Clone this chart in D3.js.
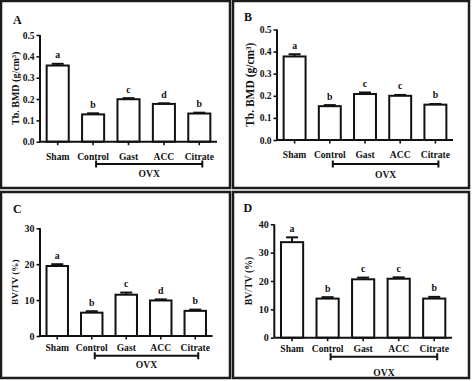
<!DOCTYPE html>
<html>
<head>
<meta charset="utf-8">
<script src="https://cdn.jsdelivr.net/npm/d3@7"></script>
<style>
  html, body { margin: 0; padding: 0; background: #fff; }
  svg { display: block; }
  text { font-family: "Liberation Serif", "Times New Roman", "DejaVu Serif", serif; font-weight: bold; fill: #111; }
</style>
</head>
<body>
<svg id="chart" width="474" height="381"></svg>
<script>
// ---- data ----
const groups = ["Sham", "Control", "Gast", "ACC", "Citrate"];

const bmdA = [0.357, 0.128, 0.199, 0.177, 0.132];
const errA = [0.008, 0.005, 0.005, 0.003, 0.004];
const lettersA = ["a", "b", "c", "d", "b"];

const bmdB = [0.378, 0.153, 0.208, 0.200, 0.160];
const errB = [0.010, 0.005, 0.007, 0.004, 0.003];
const lettersB = ["a", "b", "c", "c", "b"];

const bvC = [19.5, 6.5, 11.5, 9.9, 7.0];
const errC = [0.5, 0.4, 0.6, 0.3, 0.35];
const lettersC = ["a", "b", "c", "d", "b"];

const bvD = [33.7, 13.8, 20.6, 20.8, 13.8];
const errD = [1.7, 0.5, 0.6, 0.5, 0.6];
const lettersD = ["a", "b", "c", "c", "b"];

const ticksBMD = [0, 0.1, 0.2, 0.3, 0.4, 0.5];
const ticksC = [0, 10, 20, 30];
const ticksD = [0, 10, 20, 30, 40];

const titleBMD = "Tb. BMD (g/cm\u00B3)";
const titleBV = "BV/TV (%)";
const groupLabel = "OVX";

// ---- layout ----
const panels = [
  { id: "A", values: bmdA, errs: errA, letters: lettersA, ticks: ticksBMD, fmt: d3.format(".1f"), max: 0.5, title: titleBMD,
    frame: [1, 1, 230, 188], x0: 40, x1: 217, yb: 141.7, yt: 35, titleX: 15, titleSize: 10, tickSize: 9.5,
    labX: 13, labY: 24, xPad: 7.5, ovxY: 164, ovxTextY: 176.5 },
  { id: "B", values: bmdB, errs: errB, letters: lettersB, ticks: ticksBMD, fmt: d3.format(".1f"), max: 0.5, title: titleBMD,
    frame: [233, 1, 469, 188], x0: 277, x1: 453, yb: 140, yt: 29.5, titleX: 250, titleSize: 11.5, tickSize: 9.5,
    labX: 244, labY: 21, xPad: 7.5, ovxY: 164, ovxTextY: 178 },
  { id: "C", values: bvC, errs: errC, letters: lettersC, ticks: ticksC, fmt: d3.format("d"), max: 30, title: titleBV,
    frame: [1, 192, 230, 378], x0: 40, x1: 212.5, yb: 336, yt: 228.3, titleX: 15, titleSize: 9.2, tickSize: 10,
    labX: 13, labY: 213, xPad: 4.5, ovxY: 355.7, ovxTextY: 367.5 },
  { id: "D", values: bvD, errs: errD, letters: lettersD, ticks: ticksD, fmt: d3.format("d"), max: 40, title: titleBV,
    frame: [233, 192, 469, 378], x0: 274.3, x1: 452, yb: 337.7, yt: 224.3, titleX: 249, titleSize: 9.8, tickSize: 10,
    labX: 243.5, labY: 212, xPad: 4, ovxY: 356.7, ovxTextY: 375.5 }
];

const svg = d3.select("#chart");
const ink = "#111";

panels.forEach(p => {
  const g = svg.append("g");
  const [fx0, fy0, fx1, fy1] = p.frame;
  g.append("rect")
    .attr("x", fx0).attr("y", fy0).attr("width", fx1 - fx0).attr("height", fy1 - fy0)
    .attr("fill", "#fff").attr("stroke", "#1c1c1c").attr("stroke-width", 2.5);

  const x = d3.scaleBand().domain(groups).range([p.x0, p.x1]).paddingInner(0.32).paddingOuter(0.16);
  const y = d3.scaleLinear().domain([0, p.max]).range([p.yb, p.yt]);
  const bw = x.bandwidth();

  // bars
  g.selectAll("rect.bar").data(groups).enter().append("rect")
    .attr("class", "bar")
    .attr("x", d => x(d) + 1)
    .attr("width", bw - 2)
    .attr("y", (d, i) => y(p.values[i]))
    .attr("height", (d, i) => p.yb - y(p.values[i]))
    .attr("fill", "#fff").attr("stroke", ink).attr("stroke-width", 2);

  // error bars (upper only)
  groups.forEach((d, i) => {
    const cx = x(d) + bw / 2;
    const top = y(p.values[i] + p.errs[i]);
    g.append("line").attr("x1", cx).attr("x2", cx).attr("y1", y(p.values[i])).attr("y2", top)
      .attr("stroke", ink).attr("stroke-width", 2);
    g.append("line").attr("x1", cx - 6).attr("x2", cx + 6).attr("y1", top).attr("y2", top)
      .attr("stroke", ink).attr("stroke-width", 2);
    g.append("text").attr("x", cx).attr("y", top - 5.5)
      .attr("text-anchor", "middle").attr("font-size", 9.8).text(p.letters[i]);
  });

  // y axis
  const ya = g.append("g").attr("transform", `translate(${p.x0},0)`)
    .call(d3.axisLeft(y).tickValues(p.ticks).tickFormat(p.fmt).tickSize(3.5).tickPadding(2));
  ya.select(".domain").attr("stroke", ink).attr("stroke-width", 2)
    .attr("d", `M0,${p.yb}V${p.yt}`);
  ya.selectAll(".tick line").attr("stroke", ink).attr("stroke-width", 1.6);
  ya.selectAll(".tick text").attr("font-size", p.tickSize).attr("fill", ink)
    .style("font-family", "'Liberation Serif', serif").style("font-weight", "bold");

  // x axis
  const xa = g.append("g").attr("transform", `translate(0,${p.yb})`)
    .call(d3.axisBottom(x).tickSize(3.5).tickPadding(p.xPad));
  xa.select(".domain").attr("stroke", ink).attr("stroke-width", 2)
    .attr("d", `M${p.x0},0H${p.x1}`);
  xa.selectAll(".tick line").attr("stroke", ink).attr("stroke-width", 1.6);
  xa.selectAll(".tick text").attr("font-size", 9.6).attr("fill", ink)
    .style("font-family", "'Liberation Serif', serif").style("font-weight", "bold");

  // OVX bracket
  const bx1 = x("Control") + bw / 2 + 3;
  const bx2 = x("Citrate") + bw / 2 + 3;
  g.append("path")
    .attr("d", `M${bx1},${p.ovxY - 3.5}V${p.ovxY + 3.5}M${bx1},${p.ovxY}H${bx2}M${bx2},${p.ovxY - 3.5}V${p.ovxY + 3.5}`)
    .attr("fill", "none").attr("stroke", ink).attr("stroke-width", 2);
  g.append("text").attr("x", (bx1 + bx2) / 2).attr("y", p.ovxTextY)
    .attr("text-anchor", "middle").attr("font-size", 9.6).text(groupLabel);

  // y title
  g.append("text")
    .attr("transform", `translate(${p.titleX},${(p.yb + p.yt) / 2}) rotate(-90)`)
    .attr("text-anchor", "middle").attr("dy", "0.35em")
    .attr("font-size", p.titleSize).text(p.title);

  // panel label
  g.append("text").attr("x", p.labX).attr("y", p.labY).attr("font-size", 12).text(p.id);
});
</script>
</body>
</html>
